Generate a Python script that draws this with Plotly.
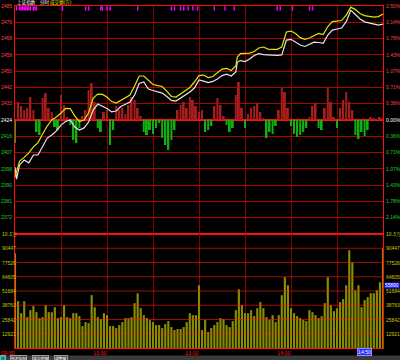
import plotly.graph_objects as go

# ---------------- data ----------------
PREV_CLOSE = 2424.3      # previous close (0.00% line)
PRICE_STEP = 8.66        # price step between grid lines
VOL_STEP = 12921         # volume step between grid lines

# trading minutes since 09:30 (0..240)
price_minutes = [0, 1, 3, 6, 9, 12, 15, 18, 21, 24, 27, 30, 33, 36, 39, 42, 45, 48, 51, 54,
                 57, 60, 63, 66, 69, 72, 75, 78, 81, 84, 87, 90, 93, 96, 99, 102, 105, 108, 111, 114,
                 117, 120, 123, 126, 129, 132, 135, 138, 141, 144, 145, 147, 150, 153, 156, 159, 162, 165, 168, 171,
                 174, 177, 180, 183, 186, 189, 192, 195, 198, 201, 204, 207, 210, 213, 216, 219, 222, 225, 228, 231,
                 234, 237, 240]

price = [2399.3, 2392.9, 2400.4, 2403.0, 2401.5, 2405.7, 2405.7, 2410.0, 2414.7, 2416.3,
         2418.5, 2421.6, 2423.5, 2424.3, 2420.6, 2419.0, 2420.1, 2423.2, 2429.6, 2432.8,
         2431.7, 2430.4, 2428.6, 2429.1, 2431.5, 2432.8, 2433.9, 2437.6, 2443.7, 2444.5,
         2440.8, 2440.0, 2439.3, 2438.6, 2436.8, 2434.7, 2434.4, 2436.0, 2437.6, 2439.2,
         2441.3, 2445.6, 2445.0, 2444.2, 2444.8, 2446.1, 2447.9, 2448.7, 2447.7, 2449.8,
         2455.1, 2455.9, 2455.4, 2456.7, 2458.6, 2459.6, 2459.1, 2458.9, 2458.6, 2458.7,
         2458.9, 2466.8, 2467.2, 2465.9, 2464.2, 2463.4, 2464.7, 2465.7, 2465.5, 2465.1,
         2469.5, 2472.1, 2472.7, 2473.2, 2476.6, 2482.7, 2480.4, 2478.0, 2476.5, 2475.8,
         2475.3, 2474.8, 2475.3]

avg_price = [2394.0, 2396.7, 2402.5, 2404.4, 2406.8, 2410.0, 2412.3, 2416.9, 2421.1, 2424.3,
             2425.9, 2428.0, 2430.5, 2430.4, 2426.4, 2423.5, 2424.3, 2428.0, 2436.0, 2438.1,
             2437.9, 2436.5, 2434.1, 2433.3, 2434.7, 2436.0, 2437.6, 2442.4, 2447.7, 2447.7,
             2445.6, 2443.2, 2442.6, 2442.1, 2439.7, 2436.8, 2436.5, 2438.1, 2440.0, 2441.6,
             2444.5, 2447.9, 2448.2, 2446.9, 2447.4, 2449.3, 2451.4, 2451.7, 2450.6, 2453.0,
             2457.8, 2459.6, 2459.6, 2459.9, 2460.7, 2462.6, 2463.1, 2462.0, 2461.9, 2461.9,
             2463.1, 2471.1, 2471.6, 2470.3, 2468.1, 2467.2, 2467.9, 2468.9, 2470.3, 2469.7,
             2474.0, 2476.6, 2477.1, 2477.2, 2480.1, 2484.3, 2483.0, 2480.9, 2479.8, 2479.3,
             2479.0, 2479.3, 2480.6]

bar_minutes = list(range(0, 241, 2))

# buy/sell strength bars (red up / green down)
signal = [-23, 18, 14, 10, 12, 23, 10, -12, -15, 22,
          27, 12, 8, -7, -10, 25, 15, 3, -5, -20,
          -23, -8, 4, 10, 30, 37, 18, -8, -12, 8,
          10, -25, -10, 14, 10, 12, 6, 15, 23, 20,
          12, 4, -12, -15, -10, -14, -8, -3, -18, -25,
          -30, -20, -10, 10, 15, 18, 12, 23, 20, 14,
          8, 10, -12, -10, -6, 14, 22, 15, 4, -5,
          -12, -8, 25, 38, 12, -8, 6, 12, 14, 17,
          8, 2, -18, -12, -14, -6, 10, 32, 28, 12,
          -6, -14, -17, -15, -12, -8, 3, 14, 17, -8,
          -10, 12, 32, 18, 3, -8, 12, 20, 28, 18,
          10, -15, -19, -12, -16, -10, 3, 2, 1, 3, 2]

volume = [85800, 42500, 31600, 42500, 28000, 34300, 38000, 32500, 27100, 28000,
          38900, 32500, 32500, 37000, 27100, 28000, 38900, 28000, 27100, 31600,
          31600, 28900, 19900, 23500, 22600, 47900, 37000, 28000, 26200, 31600,
          29800, 19900, 19900, 18100, 20800, 23500, 27100, 27100, 28000, 40700,
          49700, 36100, 29800, 27100, 25300, 23500, 20800, 20800, 18100, 21700,
          24400, 19000, 16300, 17200, 17200, 19000, 23500, 31600, 29800, 29800,
          56900, 16300, 25300, 14500, 18100, 20800, 23500, 27100, 26200, 20800,
          19000, 24400, 34300, 53300, 38900, 31600, 31600, 34300, 28900, 36100,
          41600, 36100, 28000, 25300, 29800, 23500, 29800, 47900, 64200, 56900,
          36100, 31600, 28900, 27100, 25300, 24400, 34300, 32500, 29800, 27100,
          28900, 40700, 64200, 38900, 33400, 36100, 41600, 44300, 56900, 88600,
          77700, 52400, 56900, 37000, 43400, 46100, 49700, 49700, 52400, 59600, 90400]

event_minutes = [1, 3, 4, 5, 6, 7, 8, 9, 10, 12, 13, 14, 31, 46, 48, 56, 57, 60, 62, 80,
                 102, 104, 108, 110, 113, 116, 119, 130, 137, 143, 171, 173, 181, 192, 194]

price_tick_labels = ["2372", "2381", "2390", "2398", "2407", "2416", "2424",
                     "2433", "2442", "2450", "2459", "2468", "2476", "2485"]
pct_tick_labels = ["2.14%", "1.78%", "1.43%", "1.07%", "0.71%", "0.36%", "0.00%",
                   "0.36%", "0.71%", "1.07%", "1.43%", "1.78%", "2.14%", "2.50%"]
vol_tick_labels = ["12921", "25842", "38763", "51684", "64605", "77526", "90447", "10.3万"]
time_tick_labels = ["09:30", "", "10:30", "", "13:00", "", "14:00", "", ""]
cursor_time_label = "14:50"
cursor_time_minute = 230
cursor_volume = 57000
cursor_volume_label = "55890"

assert len(price) == len(price_minutes) == len(avg_price)
assert len(signal) == len(bar_minutes) == len(volume)

# ---------------- styling ----------------
W, H = 400, 360
FONT = "Liberation Sans, Arial, sans-serif"
CJK = "Noto Sans CJK SC, sans-serif"
RED = "#ff1010"
UPC = "#ff4040"
DNC = "#20d020"
VOLC = "#c8c800"
XD = [15 / W, 383 / W]
PD = [1 - 234 / H, 1 - 6 / H]
VD = [1 - 348 / H, 1 - 234 / H]
FS = 5.0

n_up = 7
price_range = [PREV_CLOSE - n_up * PRICE_STEP, PREV_CLOSE + n_up * PRICE_STEP]
price_ticks = [PREV_CLOSE + i * PRICE_STEP for i in range(-6, 8)]


def colored(labels, ticks):
    out = []
    for lab, t in zip(labels, ticks):
        if abs(t - PREV_CLOSE) < 1e-6:
            c = "#ffffff"
        elif t > PREV_CLOSE:
            c = UPC
        else:
            c = DNC
        out.append('<span style="color:%s">%s</span>' % (c, lab))
    return out


vol_ticks = [VOL_STEP * i for i in range(1, 9)]
time_ticks = list(range(0, 241, 30))

fig = go.Figure()

fig.add_trace(go.Bar(
    x=bar_minutes, y=signal, xaxis="x", yaxis="y", width=1.3,
    marker=dict(color=["#a81c1c" if v >= 0 else "#10b010" for v in signal], line=dict(width=0)),
    hoverinfo="skip", showlegend=False))

fig.add_trace(go.Scatter(
    x=price_minutes, y=price, xaxis="x", yaxis="y2", mode="lines",
    line=dict(color="#e6e6e6", width=1.2), hoverinfo="skip", showlegend=False))

fig.add_trace(go.Scatter(
    x=price_minutes, y=avg_price, xaxis="x", yaxis="y3", mode="lines",
    line=dict(color="#e6e600", width=1.2), hoverinfo="skip", showlegend=False))

fig.add_trace(go.Scatter(
    x=event_minutes, y=[price_range[1] - 1.3] * len(event_minutes), xaxis="x", yaxis="y2",
    mode="markers", marker=dict(symbol="line-ns", size=3, line=dict(width=1.4, color="#ff00ff")),
    hoverinfo="skip", showlegend=False))

fig.add_trace(go.Bar(
    x=bar_minutes, y=volume, xaxis="x2", yaxis="y4", width=1.4,
    marker=dict(color="#8c8c00", line=dict(width=0)),
    hoverinfo="skip", showlegend=False))

tickfont = dict(family=FONT, size=FS)

fig.update_layout(
    width=W, height=H, margin=dict(l=0, r=0, t=0, b=0, pad=0),
    paper_bgcolor="#000000", plot_bgcolor="#000000",
    showlegend=False, barmode="overlay",
    xaxis=dict(domain=XD, range=[0, 240], anchor="y", tickvals=time_ticks, showticklabels=False,
               ticks="", showgrid=True, gridcolor="#8a0000", gridwidth=1, zeroline=False,
               showline=True, linecolor=RED, linewidth=1, mirror=True, fixedrange=True,
               automargin=False),
    yaxis=dict(domain=PD, range=[-114, 114], anchor="x", showticklabels=False, ticks="",
               showgrid=False, zeroline=True, zerolinecolor=RED, zerolinewidth=2, fixedrange=True,
               automargin=False),
    yaxis2=dict(overlaying="y", side="left", anchor="x", range=price_range, tickvals=price_ticks,
                ticktext=colored(price_tick_labels, price_ticks), tickfont=tickfont, ticks="",
                showgrid=True, gridcolor="#b00000", gridwidth=1, zeroline=False,
                showline=True, linecolor=RED, linewidth=1, ticklabelstandoff=1, fixedrange=True,
                automargin=False),
    yaxis3=dict(overlaying="y", side="right", anchor="x", range=price_range, tickvals=price_ticks,
                ticktext=colored(pct_tick_labels, price_ticks), tickfont=tickfont, ticks="",
                showgrid=False, zeroline=False, showline=True, linecolor=RED, linewidth=1,
                ticklabelstandoff=1, fixedrange=True, automargin=False),
    xaxis2=dict(domain=XD, range=[0, 240], anchor="y4", tickvals=time_ticks, ticktext=time_tick_labels,
                ticklabelposition="outside left", tickfont=dict(family=FONT, size=5.3, color=RED),
                ticks="", showgrid=True, gridcolor="#8a0000", zeroline=False,
                showline=True, linecolor=RED, linewidth=1, mirror=True, ticklabelstandoff=0,
                fixedrange=True, automargin=False),
    yaxis4=dict(domain=VD, range=[0, 8 * VOL_STEP], anchor="x2", tickvals=vol_ticks,
                showticklabels=False, ticks="", showgrid=False, zeroline=False, showline=True,
                linecolor=RED, linewidth=1, mirror=True, fixedrange=True, automargin=False),
)

# volume grid lines over the bars
shapes = []
for v in vol_ticks[:-1]:
    shapes.append(dict(type="line", xref="paper", yref="y4", x0=XD[0], x1=XD[1], y0=v, y1=v,
                       line=dict(color="rgba(255,30,0,0.6)", width=1), layer="above"))
# bottom tab strip
shapes.append(dict(type="rect", xref="paper", yref="paper", x0=0, x1=1, y0=0, y1=1 - 355.5 / H,
                   fillcolor="#3a3a3a", line=dict(width=0), layer="below"))
fig.update_layout(shapes=shapes)

ann = []
# title row
ann.append(dict(text="上证指数", xref="paper", yref="paper", x=15 / W, y=1 - 2.5 / H, xanchor="left",
                yanchor="middle", showarrow=False, font=dict(family=CJK, size=4.6, color="#ffffff")))
ann.append(dict(text="分时", xref="paper", yref="paper", x=38 / W, y=1 - 2.5 / H, xanchor="left",
                yanchor="middle", showarrow=False, font=dict(family=CJK, size=4.6, color="#ffffff")))
ann.append(dict(text="成交额(万)", xref="paper", yref="paper", x=48 / W, y=1 - 2.5 / H, xanchor="left",
                yanchor="middle", showarrow=False, font=dict(family=CJK, size=4.6, color="#e6e600")))
# volume labels on both sides
for v, lab in zip(vol_ticks, vol_tick_labels):
    ann.append(dict(text=lab, xref="paper", yref="y4", x=0.5 / W, y=v, xanchor="left", yanchor="middle",
                    showarrow=False, borderpad=0, font=dict(family=FONT, size=FS, color=VOLC)))
    ann.append(dict(text=lab, xref="paper", yref="y4", x=384.5 / W, y=v, xanchor="left", yanchor="middle",
                    showarrow=False, borderpad=0, font=dict(family=FONT, size=FS, color=VOLC)))
# cursor readouts
ann.append(dict(text=cursor_volume_label, xref="paper", yref="y4", x=384 / W, y=cursor_volume,
                xanchor="left", yanchor="middle", showarrow=False, bgcolor="#2424ff",
                font=dict(family=FONT, size=4.8, color="#ffffff"), borderpad=0))
ann.append(dict(text=cursor_time_label, xref="x2", yref="paper", x=cursor_time_minute, y=1 - 352 / H,
                xanchor="center", yanchor="middle", xshift=-3, showarrow=False, bgcolor="#2424ff",
                bordercolor="#9090ff", borderwidth=1, borderpad=0,
                font=dict(family=FONT, size=5.2, color="#ffffff")))
# bottom tabs
tabs = [("分", 0, "#00c8c8", "#000000"), ("技术指标", 10, "#4a4a4a", "#ffffff"),
        ("成交明细", 32, "#4a4a4a", "#ffffff"), ("调整窗", 54, "#4a4a4a", "#ffffff")]
for t, x0, bg, fc in tabs:
    ann.append(dict(text=t, xref="paper", yref="paper", x=x0 / W, y=1 - 358.5 / H, xanchor="left",
                    yanchor="middle", showarrow=False, bgcolor=bg, bordercolor="#9a9a9a", borderwidth=1,
                    borderpad=0, font=dict(family=CJK, size=3.8, color=fc)))
fig.update_layout(annotations=ann)

fig.write_html("out.html", config={"displayModeBar": False})
